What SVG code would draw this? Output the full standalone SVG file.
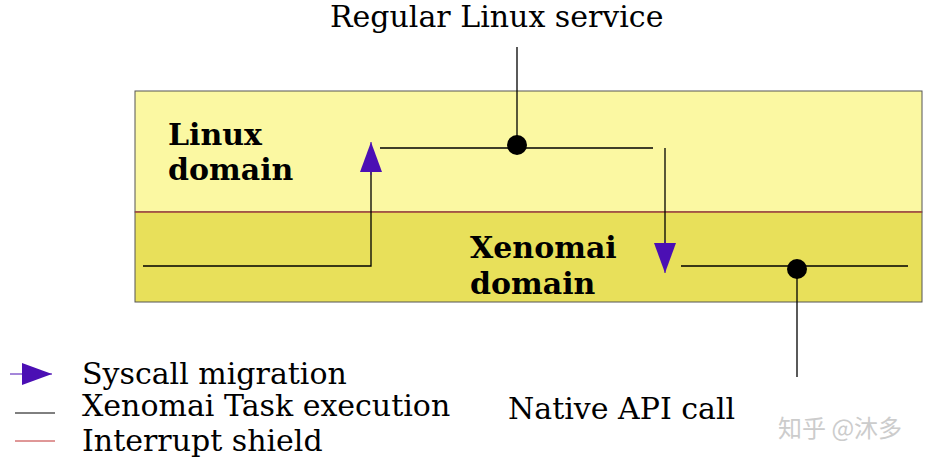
<svg xmlns="http://www.w3.org/2000/svg" width="948" height="465" viewBox="0 0 948 465">
<defs>
<style>
.t{font-family:"DejaVu Serif",serif;font-size:30px;fill:#000}
.b{font-family:"DejaVu Serif",serif;font-size:30px;font-weight:bold;fill:#000}
.ln{stroke:#000;stroke-width:1.3;fill:none}
</style>
<marker id="ar" viewBox="0 0 10 10" refX="10" refY="5" markerWidth="30" markerHeight="22" markerUnits="userSpaceOnUse" orient="auto" preserveAspectRatio="none"><path d="M0,0L10,5L0,10z" fill="#4b0fb4"/></marker>
</defs>
<rect width="948" height="465" fill="#fff"/>
<g id="linux-domain"><rect x="135" y="91" width="787" height="121" fill="#fbf8a2" stroke="#555" stroke-width="1"/><text class="b" x="168" y="145">Linux</text><text class="b" x="168" y="180">domain</text></g>
<g id="xenomai-domain"><rect x="135" y="212" width="787" height="90" fill="#e8e05a" stroke="#555" stroke-width="1"/><text class="b" x="470" y="258">Xenomai</text><text class="b" x="470" y="294">domain</text></g>
<line x1="135" y1="212" x2="922" y2="212" stroke="#c03030" stroke-width="1.2"/>
<g id="connectors">
<polyline class="ln" points="143,266 371,266 371,170"/>
<line x1="371" y1="175" x2="371" y2="142" stroke="#4b0fb4" stroke-width="1" marker-end="url(#ar)"/>
<line class="ln" x1="380" y1="148" x2="653" y2="148"/>
<line class="ln" x1="517" y1="47" x2="517" y2="145"/>
<line class="ln" x1="665" y1="148" x2="665" y2="245"/>
<line x1="665" y1="240" x2="665" y2="273" stroke="#4b0fb4" stroke-width="1" marker-end="url(#ar)"/>
<line class="ln" x1="681" y1="266" x2="908" y2="266"/>
<line class="ln" x1="797" y1="269" x2="797" y2="377"/>
</g>
<g id="regular-linux-service"><circle cx="517" cy="145" r="10" fill="#000"/><text class="t" x="330" y="27">Regular Linux service</text></g>
<g id="native-api-call"><circle cx="797" cy="269" r="10" fill="#000"/><text class="t" x="508" y="419">Native API call</text></g>
<g id="legend">
<line x1="10" y1="374" x2="52" y2="374" stroke="#4b0fb4" stroke-width="1" marker-end="url(#ar)"/>
<text class="t" x="82" y="384">Syscall migration</text>
<line x1="15" y1="413" x2="55" y2="413" stroke="#000" stroke-width="1"/>
<text class="t" x="82" y="416">Xenomai Task execution</text>
<line x1="15" y1="441" x2="55" y2="441" stroke="#c03030" stroke-width="1"/>
<text class="t" x="82" y="451">Interrupt shield</text>
</g>
<text x="778" y="437" font-family="Noto Sans CJK SC,sans-serif" font-size="24" fill="#ccc">知乎 @沐多</text>
</svg>
